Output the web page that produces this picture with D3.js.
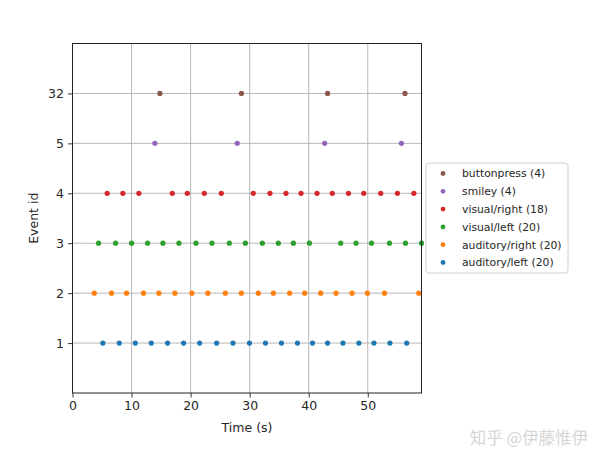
<!DOCTYPE html>
<html>
<head>
<meta charset="utf-8">
<script src="https://cdn.jsdelivr.net/npm/d3@7"></script>
<style>
  body { margin: 0; background: #fff; }
  svg { display: block; font-family: "DejaVu Sans", sans-serif; }
</style>
</head>
<body>
<svg id="chart" width="600" height="463"></svg>
<script>
// ---- data ----
const eventIds = [1, 2, 3, 4, 5, 32];
const eventNames = ["auditory/left", "auditory/right", "visual/left", "visual/right", "smiley", "buttonpress"];
const auditoryLeft = [5.14, 7.92, 10.63, 13.34, 16.1, 18.81, 21.53, 24.41, 27.17, 29.97, 32.68, 35.39, 38.1, 40.64, 43.19, 45.8, 48.5, 51.05, 53.76, 56.6];
const auditoryRight = [3.68, 6.61, 9.15, 12.03, 14.63, 17.34, 20.22, 22.93, 25.88, 28.59, 31.47, 34.02, 36.78, 39.32, 42.03, 44.63, 47.34, 49.94, 52.83, 58.64];
const visualLeft = [4.41, 7.29, 10.0, 12.71, 15.31, 18.02, 20.9, 23.61, 26.56, 29.27, 32.15, 34.86, 37.4, 40.12, 45.42, 48.02, 50.63, 53.68, 56.39, 59.1];
const visualRight = [5.88, 8.53, 11.24, 16.9, 19.44, 22.32, 25.2, 30.62, 33.44, 36.15, 38.7, 41.41, 44.0, 46.73, 49.32, 52.2, 55.03, 57.8];
const smiley = [13.95, 27.9, 42.7, 55.7];
const buttonpress = [14.8, 28.6, 43.2, 56.3];
const xTicks = [0, 10, 20, 30, 40, 50];
const colors = ["#1f77b4", "#ff7f0e", "#2ca02c", "#d62728", "#9467bd", "#8c564b"];

const seriesTimes = [auditoryLeft, auditoryRight, visualLeft, visualRight, smiley, buttonpress];
const series = eventNames.map((name, i) => ({
  name, id: eventIds[i], color: colors[i], times: seriesTimes[i]
}));

// ---- layout ----
const svg = d3.select("#chart");
const L = 72.5, R = 421.5, T = 43.5, B = 393;
const x = d3.scaleLinear().domain([0, 59.1]).range([L, R]);
const y = d3.scaleLinear().domain([0, 7]).range([B, T]);

// grid
const g = svg.append("g");
g.selectAll("line.vg").data(xTicks).join("line")
  .attr("x1", d => x(d)).attr("x2", d => x(d))
  .attr("y1", T).attr("y2", B)
  .attr("stroke", "#b0b0b0").attr("stroke-width", 0.9);
g.selectAll("line.hg").data(eventIds).join("line")
  .attr("x1", L).attr("x2", R)
  .attr("y1", (d, i) => y(i + 1)).attr("y2", (d, i) => y(i + 1))
  .attr("stroke", "#b0b0b0").attr("stroke-width", 0.9);

// points
series.forEach((s, i) => {
  svg.append("g").selectAll("circle").data(s.times).join("circle")
    .attr("cx", d => x(d)).attr("cy", y(i + 1))
    .attr("r", 2.6).attr("fill", s.color);
});

// axes
const xAxis = d3.axisBottom(x).tickValues(xTicks).tickSize(4.5).tickPadding(4);
const yAxis = d3.axisLeft(y).tickValues([1, 2, 3, 4, 5, 6])
  .tickFormat((d) => eventIds[d - 1]).tickSize(4.5).tickPadding(4);

const gx = svg.append("g").attr("transform", `translate(0,${B})`).call(xAxis);
const gy = svg.append("g").attr("transform", `translate(${L},0)`).call(yAxis);
[gx, gy].forEach(a => {
  a.select(".domain").remove();
  a.selectAll("text").attr("font-size", 12.5).attr("fill", "#262626")
    .attr("font-family", "DejaVu Sans, sans-serif");
  a.selectAll("line").attr("stroke", "#222").attr("stroke-width", 0.9);
});

// frame
svg.append("rect").attr("x", L).attr("y", T).attr("width", R - L).attr("height", B - T)
  .attr("fill", "none").attr("stroke", "#222").attr("stroke-width", 1);

// labels
svg.append("text").attr("x", (L + R) / 2).attr("y", 432).attr("text-anchor", "middle")
  .attr("font-size", 12.5).attr("fill", "#262626").text("Time (s)");
svg.append("text").attr("transform", `translate(38,${(T + B) / 2}) rotate(-90)`)
  .attr("text-anchor", "middle").attr("font-size", 12.5).attr("fill", "#262626").text("Event id");

// legend
const lg = svg.append("g");
lg.append("rect").attr("x", 426).attr("y", 163).attr("width", 142).attr("height", 110)
  .attr("rx", 3).attr("fill", "#fff").attr("stroke", "#d0d0d0").attr("stroke-width", 1);
const legendItems = series.slice().reverse();
legendItems.forEach((s, i) => {
  const yy = 173.5 + i * 17.8;
  lg.append("circle").attr("cx", 443).attr("cy", yy).attr("r", 2.4).attr("fill", s.color);
  lg.append("text").attr("x", 462).attr("y", yy).attr("dy", "0.36em")
    .attr("font-size", 10.8).attr("fill", "#262626")
    .text(`${s.name} (${s.times.length})`);
});

// watermark
svg.append("text").attr("x", 588).attr("y", 444).attr("text-anchor", "end")
  .attr("font-family", "Noto Sans CJK SC, sans-serif").attr("font-size", 16.5)
  .attr("fill", "#d6d6d6").text("知乎 @伊藤惟伊");
</script>
</body>
</html>
